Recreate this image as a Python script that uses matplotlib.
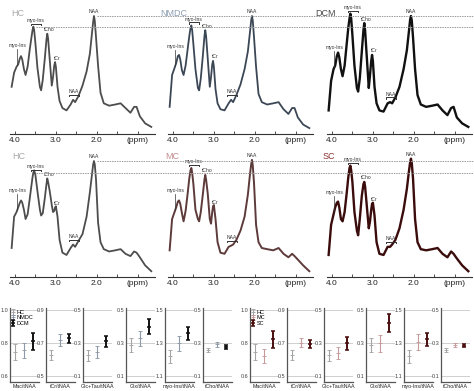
import numpy as np
import matplotlib
matplotlib.use('Agg')
import matplotlib.pyplot as plt
from matplotlib.lines import Line2D
from matplotlib.transforms import blended_transform_factory

plt.rcParams['font.family'] = ['Liberation Sans', 'DejaVu Sans']

# --- spectra (ppm grid shared by all six panels, intensity relative to HC NAA) ---
ppm = [4.08, 4.02, 3.96, 3.92, 3.88, 3.85, 3.82, 3.78, 3.74, 3.69,
       3.64, 3.60, 3.57, 3.55, 3.53, 3.50, 3.45, 3.39, 3.36, 3.32,
       3.27, 3.23, 3.21, 3.19, 3.15, 3.10, 3.07, 3.04, 3.02, 3.00,
       2.96, 2.91, 2.84, 2.74, 2.64, 2.58, 2.53, 2.45, 2.35, 2.25,
       2.17, 2.12, 2.09, 2.07, 2.05, 2.02, 1.97, 1.91, 1.83, 1.70,
       1.55, 1.42, 1.30, 1.18, 1.09, 1.03, 0.95, 0.82, 0.67]

hc1_int = [0.40, 0.52, 0.57, 0.59, 0.64, 0.66, 0.63, 0.55, 0.50, 0.57,
           0.71, 0.81, 0.88, 0.91, 0.88, 0.77, 0.56, 0.40, 0.37, 0.46,
           0.64, 0.80, 0.85, 0.81, 0.63, 0.41, 0.48, 0.58, 0.61, 0.57,
           0.40, 0.28, 0.22, 0.20, 0.25, 0.29, 0.27, 0.32, 0.41, 0.53,
           0.68, 0.85, 0.95, 1.00, 0.96, 0.82, 0.58, 0.35, 0.26, 0.24,
           0.25, 0.26, 0.22, 0.18, 0.23, 0.23, 0.15, 0.09, 0.06]
nmdc_int = [0.23, 0.50, 0.56, 0.60, 0.66, 0.67, 0.63, 0.54, 0.50, 0.58,
            0.72, 0.83, 0.90, 0.92, 0.88, 0.76, 0.55, 0.39, 0.37, 0.47,
            0.66, 0.83, 0.88, 0.83, 0.64, 0.40, 0.48, 0.59, 0.62, 0.57,
            0.38, 0.26, 0.21, 0.20, 0.26, 0.29, 0.27, 0.33, 0.42, 0.55,
            0.70, 0.86, 0.96, 1.00, 0.96, 0.82, 0.57, 0.34, 0.27, 0.25,
            0.26, 0.27, 0.21, 0.17, 0.22, 0.22, 0.14, 0.08, 0.05]
dcm_int = [0.20, 0.45, 0.55, 0.58, 0.66, 0.69, 0.65, 0.55, 0.49, 0.58,
           0.76, 0.90, 0.98, 1.02, 0.98, 0.84, 0.58, 0.39, 0.36, 0.47,
           0.70, 0.88, 0.94, 0.88, 0.66, 0.39, 0.50, 0.62, 0.67, 0.62,
           0.40, 0.26, 0.20, 0.19, 0.26, 0.27, 0.26, 0.31, 0.40, 0.55,
           0.71, 0.87, 0.97, 1.00, 0.96, 0.82, 0.55, 0.33, 0.25, 0.23,
           0.24, 0.25, 0.20, 0.16, 0.22, 0.23, 0.14, 0.09, 0.06]
hc2_int = [0.25, 0.52, 0.56, 0.60, 0.64, 0.66, 0.64, 0.58, 0.50, 0.54,
           0.67, 0.78, 0.86, 0.90, 0.92, 0.88, 0.74, 0.58, 0.53, 0.55,
           0.68, 0.80, 0.85, 0.82, 0.74, 0.62, 0.56, 0.57, 0.60, 0.61,
           0.52, 0.32, 0.21, 0.19, 0.25, 0.28, 0.26, 0.31, 0.37, 0.52,
           0.73, 0.88, 0.97, 1.00, 0.97, 0.84, 0.47, 0.30, 0.24, 0.22,
           0.23, 0.24, 0.20, 0.18, 0.22, 0.21, 0.17, 0.10, 0.05]
mc_int = [0.23, 0.50, 0.56, 0.60, 0.65, 0.66, 0.63, 0.55, 0.48, 0.57,
          0.72, 0.85, 0.92, 0.94, 0.90, 0.80, 0.58, 0.50, 0.48, 0.56,
          0.71, 0.84, 0.88, 0.84, 0.72, 0.50, 0.46, 0.56, 0.61, 0.62,
          0.50, 0.30, 0.21, 0.20, 0.26, 0.27, 0.28, 0.32, 0.40, 0.52,
          0.71, 0.88, 0.97, 1.01, 0.96, 0.81, 0.45, 0.30, 0.25, 0.24,
          0.23, 0.25, 0.20, 0.17, 0.20, 0.18, 0.15, 0.10, 0.05]
sc_int = [0.19, 0.45, 0.54, 0.60, 0.64, 0.65, 0.60, 0.50, 0.48, 0.56,
          0.72, 0.86, 0.94, 0.96, 0.92, 0.82, 0.56, 0.40, 0.36, 0.50,
          0.70, 0.80, 0.82, 0.78, 0.62, 0.42, 0.48, 0.58, 0.63, 0.64,
          0.53, 0.30, 0.20, 0.19, 0.26, 0.26, 0.28, 0.32, 0.42, 0.58,
          0.76, 0.91, 0.99, 1.02, 0.98, 0.85, 0.50, 0.30, 0.24, 0.23,
          0.24, 0.25, 0.20, 0.17, 0.22, 0.20, 0.16, 0.10, 0.05]

ppm_ticks = [4, 3, 2, 1]
ppm_ticklabels = ['4.0', '3.0', '2.0', '(ppm)']

# --- metabolite ratios (mean, sd) ---
ratio_names = ['Mac/tNAA', 'tCr/tNAA', 'Glc+Tau/tNAA', 'Glx/tNAA', 'myo-Ins/tNAA', 'tCho/tNAA']
ratio_ticks = [(0.6, 0.8, 1.0), (0.5, 0.7, 0.9), (0.1, 0.3, 0.5),
               (0.1, 0.3, 0.5), (1.1, 1.3, 1.5), (0.1, 0.3, 0.5)]
hc_mean = [0.745, 0.627, 0.225, 0.288, 1.219, 0.260]
hc_err = [0.048, 0.030, 0.035, 0.042, 0.040, 0.012]
nmdc_mean = [0.755, 0.718, 0.247, 0.329, 1.298, 0.292]
nmdc_err = [0.048, 0.035, 0.035, 0.045, 0.045, 0.017]
dcm_mean = [0.810, 0.728, 0.310, 0.400, 1.359, 0.278]
dcm_err = [0.050, 0.025, 0.035, 0.043, 0.040, 0.012]
mc_mean = [0.721, 0.702, 0.241, 0.298, 1.308, 0.288]
mc_err = [0.040, 0.028, 0.035, 0.050, 0.048, 0.015]
sc_mean = [0.822, 0.692, 0.298, 0.420, 1.322, 0.284]
sc_err = [0.050, 0.025, 0.040, 0.056, 0.040, 0.010]

W, H = 474, 391
fig = plt.figure(figsize=(W / 100, H / 100), dpi=100)


def px_axes(x0, y0, x1, y1):
    ax = fig.add_axes([x0 / W, 1 - y1 / H, (x1 - x0) / W, (y1 - y0) / H])
    ax.patch.set_alpha(0)
    return ax


def peak_labels(ax, inten, ppu):
    d = lambda px: px / ppu
    fs = 3.6
    c = '#333333'
    ax.text(ppm[43], inten[43] + d(2), 'NAA', ha='center', va='bottom', fontsize=fs, color=c)
    y = inten[13] + d(3)
    ax.plot([3.61, 3.61, 3.37, 3.37], [y - d(1.5), y, y, y - d(1.5)], color=c, lw=0.7)
    ax.text(3.49, y + d(0.5), 'myo-Ins', ha='center', va='bottom', fontsize=fs, color=c)
    ax.text(ppm[22] - 0.06, inten[22] + d(1.5), 'tCho', ha='center', va='bottom', fontsize=fs, color=c)
    ax.text(ppm[28] - 0.06, inten[28] + d(1.5), 'tCr', ha='center', va='bottom', fontsize=fs, color=c)
    y = inten[2] + d(2)
    ax.plot([ppm[2], ppm[2]], [y, y + d(16)], color=c, lw=0.5)
    ax.text(ppm[2] - 0.02, y + d(17), 'myo-Ins', ha='center', va='bottom', fontsize=fs, color=c)
    y = inten[35] + d(5)
    ax.plot([2.68, 2.68, 2.44, 2.44], [y - d(1.5), y, y, y - d(1.5)], color=c, lw=0.7)
    ax.text(2.56, y + d(0.5), 'NAA', ha='center', va='bottom', fontsize=fs, color=c)


# row, col, label, data, line colour, line width, label colour, label x (axes frac)
panels = [
    (0, 0, 'HC', hc1_int, '#4d4d4d', 1.3, '#a9a9a9', 0.007),
    (0, 1, 'NMDC', nmdc_int, '#3c4756', 1.3, '#8d9eb4', -0.055),
    (0, 2, 'DCM', dcm_int, '#111111', 1.7, '#4a4a4a', -0.083),
    (1, 0, 'HC', hc2_int, '#4d4d4d', 1.3, '#a9a9a9', 0.014),
    (1, 1, 'MC', mc_int, '#5e3b3b', 1.4, '#c48d8d', -0.02),
    (1, 2, 'SC', sc_int, '#3b0c0c', 1.7, '#8b3030', -0.028),
]
row_top = [0, 143]
row_bot = [134, 277]
row_ppu = [118, 116]
col_left = [10, 168, 327]

hc_axes = {}
for r, c, name, inten, lc, lw, tc, tx in panels:
    L = col_left[c]
    ax = px_axes(L, row_top[r], L + 145, row_bot[r])
    ax.set_xlim(4.12, 0.58)
    ax.set_ylim(0, (row_bot[r] - row_top[r]) / row_ppu[r])
    ax.plot(ppm, inten, color=lc, lw=lw, solid_joinstyle='round', clip_on=False)
    for s in ['left', 'right', 'top']:
        ax.spines[s].set_visible(False)
    ax.spines['bottom'].set_linewidth(0.8)
    ax.spines['bottom'].set_color('#333333')
    ax.set_yticks([])
    ax.set_xticks(ppm_ticks)
    ax.set_xticklabels(ppm_ticklabels, fontsize=6, color='#222222')
    ax.set_xticks([3.5, 2.5, 1.5], minor=True)
    ax.tick_params(axis='x', which='both', direction='in', length=2, width=0.6, pad=2, color='#333333')
    ax.text(tx, 0.9, name, transform=ax.transAxes, fontsize=6.5, color=tc, ha='left', va='center')
    peak_labels(ax, inten, row_ppu[r])
    if c == 0:
        hc_axes[r] = (ax, inten)

# dotted reference levels (HC NAA and HC myo-Ins) across each row
for r, (ax, inten) in hc_axes.items():
    tr = blended_transform_factory(fig.transFigure, ax.transData)
    for idx in (43, 13):
        xs = (ax.transData.transform((ppm[idx], 0))[0] + 3) / W
        fig.add_artist(Line2D([xs, 1.0], [inten[idx], inten[idx]], transform=tr,
                              color='#9a9a9a', lw=0.7, ls=(0, (1.5, 1))))

# --- bottom ratio panels ---
groups = [
    (['HC', 'NMDC', 'DCM'], [hc_mean, nmdc_mean, dcm_mean], [hc_err, nmdc_err, dcm_err],
     ['#a5a5a5', '#8e9aa8', '#111111'], [0.8, 0.8, 1.4], [10, 46, 83, 126, 165, 203]),
    (['HC', 'MC', 'SC'], [hc_mean, mc_mean, sc_mean], [hc_err, mc_err, sc_err],
     ['#a5a5a5', '#c49a9a', '#4a0e0e'], [0.8, 0.8, 1.4], [250, 287, 324, 366, 404, 441]),
]
for names, means, errs, cols, lws, spines in groups:
    for i, metab in enumerate(ratio_names):
        x0 = spines[i]
        ax = px_axes(x0, 308, x0 + 29, 382)
        lo, mid, hi = ratio_ticks[i]
        ax.set_ylim(lo - 0.036, hi + 0.012)
        ax.set_xlim(0.45, 3.6)
        ax.set_yticks([lo, mid, hi])
        ax.set_yticklabels(['%.1f' % v for v in (lo, mid, hi)], fontsize=4, color='#444444')
        ax.yaxis.grid(True, color='#c8c8c8', lw=0.6)
        ax.set_axisbelow(True)
        ax.set_xticks([])
        for s in ['top', 'right']:
            ax.spines[s].set_visible(False)
        for s in ['left', 'bottom']:
            ax.spines[s].set_color('#555555')
            ax.spines[s].set_linewidth(0.9)
        ax.tick_params(axis='y', length=0, pad=1)
        ax.set_xlabel(metab, fontsize=3.8, labelpad=1.5, color='#222222')
        for k in range(3):
            ax.errorbar(k + 1, means[k][i], yerr=errs[k][i], fmt='_', ms=2.5, mew=lws[k] * 0.8,
                        color=cols[k], ecolor=cols[k], elinewidth=lws[k], capsize=1.3,
                        capthick=lws[k] * 0.7, label=names[k])
        if i == 0:
            ax.legend(loc='upper left', fontsize=4, frameon=False, handlelength=0.5,
                      handletextpad=0.4, labelspacing=0.1, borderaxespad=0.2, borderpad=0.1)

fig.savefig('out.png', dpi=100)
